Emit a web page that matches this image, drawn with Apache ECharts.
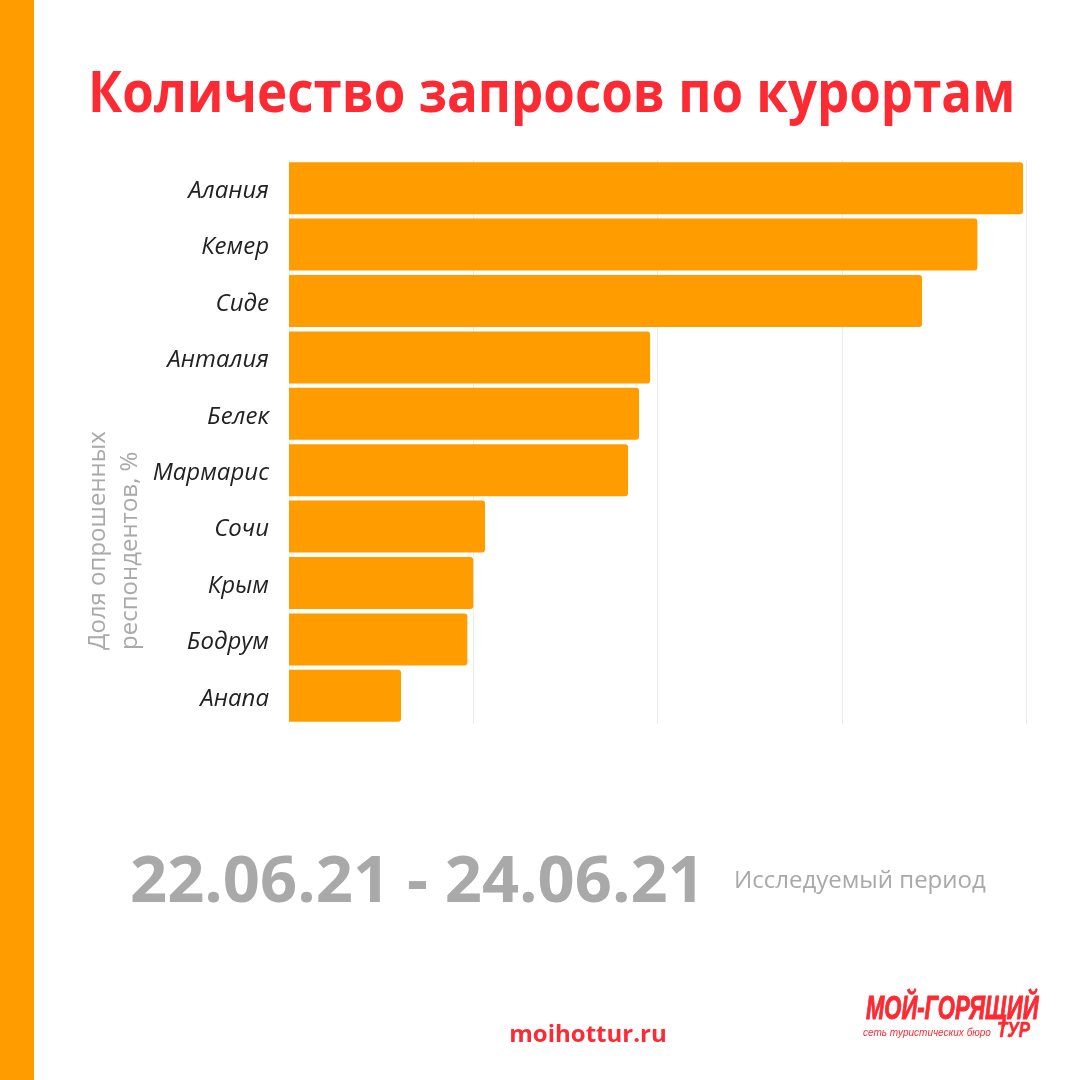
<!DOCTYPE html>
<html>
<head>
<meta charset="utf-8">
<style>
html, body { margin: 0; padding: 0; background: #fff; }
#chart { width: 1080px; height: 1080px; }
</style>
<script src="https://cdn.jsdelivr.net/npm/echarts@6/dist/echarts.min.js"></script>
</head>
<body>
<div id="chart"></div>
<script>
var categories = ["Алания", "Кемер", "Сиде", "Анталия", "Белек", "Мармарис", "Сочи", "Крым", "Бодрум", "Анапа"];
var values = [99.6, 93.4, 85.9, 49, 47.5, 46, 26.6, 25, 24.2, 15.2];
var valueTicks = [0, 25, 50, 75, 100];

var orange = "#ff9c00";
var red = "#fb2a33";
var grey = "#a9a9a9";
var font = "'Open Sans', 'Noto Sans', sans-serif";
var logoFont = "'Liberation Sans', sans-serif";

var myChart = echarts.init(document.getElementById("chart"));
var option = {
    animation: false,
    backgroundColor: "#fff",
    grid: { left: 289, top: 160, width: 737, height: 564 },
    xAxis: {
        type: "value",
        min: valueTicks[0],
        max: valueTicks[valueTicks.length - 1],
        interval: valueTicks[1] - valueTicks[0],
        axisLabel: { show: false },
        axisLine: { show: false },
        axisTick: { show: false },
        splitLine: { lineStyle: { color: "#ececec", width: 1 } }
    },
    yAxis: {
        type: "category",
        inverse: true,
        data: categories,
        axisLine: { show: false },
        axisTick: { show: false },
        axisLabel: {
            margin: 20,
            color: "#222",
            fontFamily: font,
            fontStyle: "italic",
            fontSize: 24,
            // сдвиг подписей чуть ниже центра полосы
            verticalAlign: "top",
            lineHeight: 6
        }
    },
    series: [{
        type: "bar",
        data: values,
        barWidth: 52,
        itemStyle: { color: orange, borderRadius: [0, 3, 3, 0] }
    }],
    graphic: [
        // полоса слева
        { type: "rect", shape: { x: 0, y: 0, width: 34, height: 1080 }, style: { fill: orange } },
        // заголовок
        {
            type: "text", x: 88, y: 66, scaleX: 0.88,
            style: {
                text: "Количество запросов по курортам",
                fill: red, font: "bold 58px " + font
            }
        },
        // подпись оси
        {
            type: "text", x: 146, y: 650, rotation: Math.PI / 2,
            style: {
                text: "Доля опрошенных\nреспондентов, %",
                fill: grey, font: "24px " + font, lineHeight: 32,
                align: "left", verticalAlign: "bottom"
            }
        },
        {
            type: "text", x: 130, y: 851,
            style: { text: "22.06.21 - 24.06.21", fill: grey, font: "bold 65px " + font }
        },
        {
            type: "text", x: 734, y: 869,
            style: { text: "Исследуемый период", fill: grey, font: "24px " + font }
        },
        {
            type: "text", x: 588, y: 1023,
            style: { text: "moihottur.ru", fill: red, font: "bold 24px " + font, align: "center" }
        },
        // логотип
        {
            type: "text", x: 866, y: 993, scaleX: 0.647,
            style: { text: "МОЙ-ГОРЯЩИЙ", fill: red, stroke: red, lineWidth: 1, font: "italic bold 34px " + logoFont }
        },
        {
            type: "text", x: 997, y: 1020, scaleX: 0.77,
            style: { text: "ТУР", fill: red, stroke: red, lineWidth: 0.6, font: "italic bold 22px " + logoFont }
        },
        {
            type: "text", x: 863, y: 1028,
            style: { text: "сеть туристических бюро", fill: red, font: "italic 10px " + logoFont }
        }
    ]
};
myChart.setOption(option);
window.addEventListener("resize", function() {
    myChart.resize();
});
</script>
</body>
</html>
